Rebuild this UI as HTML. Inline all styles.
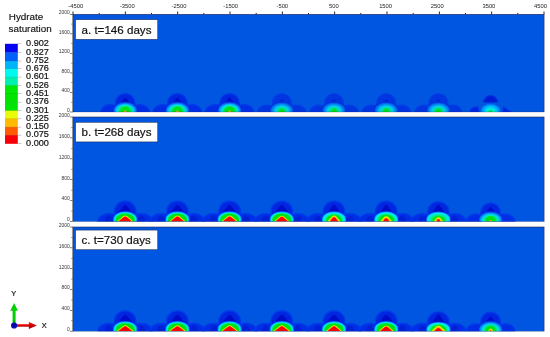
<!DOCTYPE html>
<html lang="en"><head><meta charset="utf-8"><title>Hydrate saturation</title>
<style>html,body{margin:0;padding:0;background:#fff;}body{width:550px;height:337px;overflow:hidden;}svg{display:block;font-family:"Liberation Sans",Arial,sans-serif;}</style>
</head><body>
<svg width="550" height="337" viewBox="0 0 550 337">
<defs>
<filter id="bl" x="-20%" y="-20%" width="140%" height="140%"><feGaussianBlur stdDeviation="0.55"/></filter>
<filter id="bl2" x="-20%" y="-20%" width="140%" height="140%"><feGaussianBlur stdDeviation="0.35"/></filter>
<g id="bA2" filter="url(#bl)">
<ellipse cx="0" cy="-9.00" rx="10.00" ry="9.80" fill="#003ce6"/><ellipse cx="-14.60" cy="0" rx="10.30" ry="7.50" fill="#003ce6"/><ellipse cx="14.60" cy="0" rx="10.30" ry="7.50" fill="#003ce6"/><rect x="-10" y="-9" width="20" height="9" fill="#003ce6"/><ellipse cx="0" cy="-9.00" rx="8.60" ry="8.43" fill="#0034e0"/><ellipse cx="-14.60" cy="0" rx="8.90" ry="6.10" fill="#0034e0"/><ellipse cx="14.60" cy="0" rx="8.90" ry="6.10" fill="#0034e0"/>
<ellipse cx="0" cy="-11.2" rx="1.6" ry="1.3" fill="#0024d2"/>
<path d="M-12.20,0 L-12.20,-2.00 C-12.20,-6.42 -6.74,-10.00 0,-10.00 C6.74,-10.00 12.20,-6.42 12.20,-2.00 L12.20,0 Z" fill="#002cd8"/>
<path d="M-11.60,0 L-11.60,-1.90 C-11.60,-6.10 -6.41,-9.50 0,-9.50 C6.41,-9.50 11.60,-6.10 11.60,-1.90 L11.60,0 Z" fill="#0a4ce6"/>
<path d="M-10.80,0 L-10.80,-1.78 C-10.80,-5.71 -5.96,-8.90 0,-8.90 C5.96,-8.90 10.80,-5.71 10.80,-1.78 L10.80,0 Z" fill="#006eec"/>
<path d="M-9.60,0 L-9.60,-1.60 C-9.60,-5.13 -5.30,-8.00 0,-8.00 C5.30,-8.00 9.60,-5.13 9.60,-1.60 L9.60,0 Z" fill="#0091f0"/>
<path d="M-8.20,0 L-8.20,-1.38 C-8.20,-4.43 -4.53,-6.90 0,-6.90 C4.53,-6.90 8.20,-4.43 8.20,-1.38 L8.20,0 Z" fill="#00b4f0"/>
<path d="M-6.80,0 L-6.80,-1.18 C-6.80,-3.79 -3.76,-5.90 0,-5.90 C3.76,-5.90 6.80,-3.79 6.80,-1.18 L6.80,0 Z" fill="#00d2e6"/>
<path d="M-5.40,0 L-5.40,-1.00 C-5.40,-3.21 -2.98,-5.00 0,-5.00 C2.98,-5.00 5.40,-3.21 5.40,-1.00 L5.40,0 Z" fill="#00dcbe"/>
<path d="M-4.20,0 L-4.20,-0.84 C-4.20,-2.70 -2.32,-4.20 0,-4.20 C2.32,-4.20 4.20,-2.70 4.20,-0.84 L4.20,0 Z" fill="#00e182"/>
<path d="M-3.20,0 L-3.20,-0.68 C-3.20,-2.18 -1.77,-3.40 0,-3.40 C1.77,-3.40 3.20,-2.18 3.20,-0.68 L3.20,0 Z" fill="#00e13c"/>
<path d="M-2.20,0 L-2.20,-0.50 C-2.20,-1.60 -1.22,-2.50 0,-2.50 C1.22,-2.50 2.20,-1.60 2.20,-0.50 L2.20,0 Z" fill="#00e114"/>
</g>
<g id="bA3" filter="url(#bl)">
<ellipse cx="0" cy="-9.00" rx="10.00" ry="9.80" fill="#003ce6"/><ellipse cx="-14.10" cy="0" rx="9.80" ry="7.50" fill="#003ce6"/><ellipse cx="14.10" cy="0" rx="9.80" ry="7.50" fill="#003ce6"/><rect x="-10" y="-9" width="20" height="9" fill="#003ce6"/><ellipse cx="0" cy="-9.00" rx="8.60" ry="8.43" fill="#0034e0"/><ellipse cx="-14.10" cy="0" rx="8.40" ry="6.10" fill="#0034e0"/><ellipse cx="14.10" cy="0" rx="8.40" ry="6.10" fill="#0034e0"/>
<ellipse cx="0" cy="-11.2" rx="1.6" ry="1.3" fill="#0024d2"/>
<path d="M-12.20,0 L-12.20,-2.00 C-12.20,-6.42 -6.74,-10.00 0,-10.00 C6.74,-10.00 12.20,-6.42 12.20,-2.00 L12.20,0 Z" fill="#002cd8"/>
<path d="M-11.60,0 L-11.60,-1.90 C-11.60,-6.10 -6.41,-9.50 0,-9.50 C6.41,-9.50 11.60,-6.10 11.60,-1.90 L11.60,0 Z" fill="#0a4ce6"/>
<path d="M-10.80,0 L-10.80,-1.78 C-10.80,-5.71 -5.96,-8.90 0,-8.90 C5.96,-8.90 10.80,-5.71 10.80,-1.78 L10.80,0 Z" fill="#006eec"/>
<path d="M-9.60,0 L-9.60,-1.60 C-9.60,-5.13 -5.30,-8.00 0,-8.00 C5.30,-8.00 9.60,-5.13 9.60,-1.60 L9.60,0 Z" fill="#0091f0"/>
<path d="M-8.20,0 L-8.20,-1.38 C-8.20,-4.43 -4.53,-6.90 0,-6.90 C4.53,-6.90 8.20,-4.43 8.20,-1.38 L8.20,0 Z" fill="#00b4f0"/>
<path d="M-6.80,0 L-6.80,-1.18 C-6.80,-3.79 -3.76,-5.90 0,-5.90 C3.76,-5.90 6.80,-3.79 6.80,-1.18 L6.80,0 Z" fill="#00d2e6"/>
<path d="M-5.40,0 L-5.40,-1.00 C-5.40,-3.21 -2.98,-5.00 0,-5.00 C2.98,-5.00 5.40,-3.21 5.40,-1.00 L5.40,0 Z" fill="#00dcbe"/>
<path d="M-4.20,0 L-4.20,-0.84 C-4.20,-2.70 -2.32,-4.20 0,-4.20 C2.32,-4.20 4.20,-2.70 4.20,-0.84 L4.20,0 Z" fill="#00e182"/>
<path d="M-3.20,0 L-3.20,-0.68 C-3.20,-2.18 -1.77,-3.40 0,-3.40 C1.77,-3.40 3.20,-2.18 3.20,-0.68 L3.20,0 Z" fill="#00e13c"/>
<path d="M-2.20,0 L-2.20,-0.50 C-2.20,-1.60 -1.22,-2.50 0,-2.50 C1.22,-2.50 2.20,-1.60 2.20,-0.50 L2.20,0 Z" fill="#00e114"/>
</g>
<g id="bA" filter="url(#bl)">
<ellipse cx="0" cy="-8.90" rx="10.40" ry="10.19" fill="#0038ea"/><ellipse cx="-14.60" cy="0" rx="10.30" ry="7.90" fill="#0038ea"/><ellipse cx="14.60" cy="0" rx="10.30" ry="7.90" fill="#0038ea"/><rect x="-10" y="-9" width="20" height="9" fill="#0038ea"/><ellipse cx="0" cy="-8.90" rx="9.00" ry="8.82" fill="#0026e0"/><ellipse cx="-14.60" cy="0" rx="8.90" ry="6.50" fill="#002ee6"/><ellipse cx="14.60" cy="0" rx="8.90" ry="6.50" fill="#002ee6"/>
<path d="M-4.1,-10.0 L-0.7,-14.1 Q0,-14.8 0.7,-14.1 L4.1,-10.0 Q0,-11.2 -4.1,-10.0 Z" fill="#000ec8"/>
<path d="M-12.40,0 L-12.40,-2.06 C-12.40,-6.61 -6.85,-10.30 0,-10.30 C6.85,-10.30 12.40,-6.61 12.40,-2.06 L12.40,0 Z" fill="#0026e0"/>
<path d="M-11.70,0 L-11.70,-1.94 C-11.70,-6.23 -6.46,-9.70 0,-9.70 C6.46,-9.70 11.70,-6.23 11.70,-1.94 L11.70,0 Z" fill="#0a50e6"/>
<path d="M-11.00,0 L-11.00,-1.82 C-11.00,-5.84 -6.08,-9.10 0,-9.10 C6.08,-9.10 11.00,-5.84 11.00,-1.82 L11.00,0 Z" fill="#0082f0"/>
<path d="M-10.00,0 L-10.00,-1.66 C-10.00,-5.33 -5.52,-8.30 0,-8.30 C5.52,-8.30 10.00,-5.33 10.00,-1.66 L10.00,0 Z" fill="#00aaf5"/>
<path d="M-8.90,0 L-8.90,-1.50 C-8.90,-4.81 -4.92,-7.50 0,-7.50 C4.92,-7.50 8.90,-4.81 8.90,-1.50 L8.90,0 Z" fill="#00d2f0"/>
<path d="M-7.80,0 L-7.80,-1.36 C-7.80,-4.36 -4.31,-6.80 0,-6.80 C4.31,-6.80 7.80,-4.36 7.80,-1.36 L7.80,0 Z" fill="#00e6c8"/>
<path d="M-6.70,0 L-6.70,-1.22 C-6.70,-3.92 -3.70,-6.10 0,-6.10 C3.70,-6.10 6.70,-3.92 6.70,-1.22 L6.70,0 Z" fill="#00e68c"/>
<path d="M-5.70,0 L-5.70,-1.10 C-5.70,-3.53 -3.15,-5.50 0,-5.50 C3.15,-5.50 5.70,-3.53 5.70,-1.10 L5.70,0 Z" fill="#00e646"/>
<path d="M-4.70,0 L-4.70,-0.98 C-4.70,-3.15 -2.60,-4.90 0,-4.90 C2.60,-4.90 4.70,-3.15 4.70,-0.98 L4.70,0 Z" fill="#00e114"/>
<path d="M-1.30,0 L-1.30,-0.00 C-1.30,-0.83 -0.72,-1.50 0,-1.50 C0.72,-1.50 1.30,-0.83 1.30,-0.00 L1.30,0 Z" fill="#ffaa00"/>
</g>
<g id="bD" filter="url(#bl)">
<ellipse cx="0" cy="-9.40" rx="10.40" ry="10.19" fill="#0038ea"/><ellipse cx="-14.60" cy="0" rx="10.30" ry="7.90" fill="#0038ea"/><ellipse cx="14.60" cy="0" rx="10.30" ry="7.90" fill="#0038ea"/><rect x="-10" y="-9" width="20" height="9" fill="#0038ea"/><ellipse cx="0" cy="-9.40" rx="9.00" ry="8.82" fill="#0026e0"/><ellipse cx="-14.60" cy="0" rx="8.90" ry="6.50" fill="#002ee6"/><ellipse cx="14.60" cy="0" rx="8.90" ry="6.50" fill="#002ee6"/>
<path d="M-4.1,-10.0 L-0.7,-14.1 Q0,-14.8 0.7,-14.1 L4.1,-10.0 Q0,-11.2 -4.1,-10.0 Z" fill="#000ec8"/>
<path d="M-12.40,0 L-12.40,-2.06 C-12.40,-6.61 -6.85,-10.30 0,-10.30 C6.85,-10.30 12.40,-6.61 12.40,-2.06 L12.40,0 Z" fill="#0026e0"/>
<path d="M-11.70,0 L-11.70,-1.94 C-11.70,-6.23 -6.46,-9.70 0,-9.70 C6.46,-9.70 11.70,-6.23 11.70,-1.94 L11.70,0 Z" fill="#0a50e6"/>
<path d="M-11.00,0 L-11.00,-1.82 C-11.00,-5.84 -6.08,-9.10 0,-9.10 C6.08,-9.10 11.00,-5.84 11.00,-1.82 L11.00,0 Z" fill="#0082f0"/>
<path d="M-10.00,0 L-10.00,-1.66 C-10.00,-5.33 -5.52,-8.30 0,-8.30 C5.52,-8.30 10.00,-5.33 10.00,-1.66 L10.00,0 Z" fill="#00aaf5"/>
<path d="M-8.90,0 L-8.90,-1.50 C-8.90,-4.81 -4.92,-7.50 0,-7.50 C4.92,-7.50 8.90,-4.81 8.90,-1.50 L8.90,0 Z" fill="#00d2f0"/>
<path d="M-7.80,0 L-7.80,-1.36 C-7.80,-4.36 -4.31,-6.80 0,-6.80 C4.31,-6.80 7.80,-4.36 7.80,-1.36 L7.80,0 Z" fill="#00e6c8"/>
<path d="M-6.70,0 L-6.70,-1.22 C-6.70,-3.92 -3.70,-6.10 0,-6.10 C3.70,-6.10 6.70,-3.92 6.70,-1.22 L6.70,0 Z" fill="#00e68c"/>
<path d="M-5.70,0 L-5.70,-1.10 C-5.70,-3.53 -3.15,-5.50 0,-5.50 C3.15,-5.50 5.70,-3.53 5.70,-1.10 L5.70,0 Z" fill="#00e646"/>
<path d="M-4.70,0 L-4.70,-0.98 C-4.70,-3.15 -2.60,-4.90 0,-4.90 C2.60,-4.90 4.70,-3.15 4.70,-0.98 L4.70,0 Z" fill="#00e114"/>
<path d="M-2.30,0 L-2.30,-0.00 C-2.30,-1.44 -1.27,-2.60 0,-2.60 C1.27,-2.60 2.30,-1.44 2.30,-0.00 L2.30,0 Z" fill="#b4f000"/>
<path d="M-1.70,0 L-1.70,-0.00 C-1.70,-1.10 -0.94,-2.00 0,-2.00 C0.94,-2.00 1.70,-1.10 1.70,-0.00 L1.70,0 Z" fill="#ffd200"/>
<path d="M-1.3,0 L0,-1.6 L1.3,0 Z" fill="#ff5000"/>
</g>
<g id="bB" filter="url(#bl)">
<ellipse cx="0" cy="-9.80" rx="11.40" ry="11.17" fill="#0038ea"/><ellipse cx="-16.05" cy="0" rx="11.75" ry="8.50" fill="#0038ea"/><ellipse cx="16.05" cy="0" rx="11.75" ry="8.50" fill="#0038ea"/><rect x="-10" y="-9" width="20" height="9" fill="#0038ea"/><ellipse cx="0" cy="-9.80" rx="10.00" ry="9.80" fill="#0026e0"/><ellipse cx="-16.05" cy="0" rx="10.35" ry="7.10" fill="#002ee6"/><ellipse cx="16.05" cy="0" rx="10.35" ry="7.10" fill="#002ee6"/>
<path d="M-7.40,-8.50 Q-4.07,-13.07 -1.20,-16.00 Q0,-17.10 1.2,-16.00 Q4.07,-13.07 7.40,-8.50 Z" fill="#000ec8"/><ellipse cx="-16.00" cy="0" rx="4.00" ry="6.00" fill="#0020d6"/><ellipse cx="16.00" cy="0" rx="4.00" ry="6.00" fill="#0020d6"/>
<path d="M-12.50,0 L-12.50,-2.60 C-12.50,-6.91 -6.90,-10.40 0,-10.40 C6.90,-10.40 12.50,-6.91 12.50,-2.60 L12.50,0 Z" fill="#0026e0"/>
<path d="M-12.00,0 L-12.00,-2.50 C-12.00,-6.64 -6.63,-10.00 0,-10.00 C6.63,-10.00 12.00,-6.64 12.00,-2.50 L12.00,0 Z" fill="#0a78f5"/>
<path d="M-11.50,0 L-11.50,-2.38 C-11.50,-6.31 -6.35,-9.50 0,-9.50 C6.35,-9.50 11.50,-6.31 11.50,-2.38 L11.50,0 Z" fill="#00beff"/>
<path d="M-10.80,0 L-10.80,-2.25 C-10.80,-5.98 -5.96,-9.00 0,-9.00 C5.96,-9.00 10.80,-5.98 10.80,-2.25 L10.80,0 Z" fill="#00ebf0"/>
<path d="M-10.00,0 L-10.00,-2.10 C-10.00,-5.58 -5.52,-8.40 0,-8.40 C5.52,-8.40 10.00,-5.58 10.00,-2.10 L10.00,0 Z" fill="#00f0a0"/>
<path d="M-9.40,0 L-9.40,-1.58 C-9.40,-5.07 -5.19,-7.90 0,-7.90 C5.19,-7.90 9.40,-5.07 9.40,-1.58 L9.40,0 Z" fill="#00e114"/>
<path d="M-7.69,0 L-7.39,-0.8 L-2.00,-5.16 Q0,-6.76 2.00,-5.16 L7.39,-0.8 L7.69,0 Z" fill="#a0f000"/>
<path d="M-7.19,0 L-6.89,-0.8 L-1.80,-4.91 Q0,-6.36 1.80,-4.91 L6.89,-0.8 L7.19,0 Z" fill="#fff000"/>
<path d="M-6.70,0 L-6.40,-0.8 L-1.50,-4.73 Q0,-5.95 1.50,-4.73 L6.40,-0.8 L6.70,0 Z" fill="#ff9600"/>
<path d="M-6.20,0 L-5.90,-0.8 L-1.20,-4.50 Q0,-5.50 1.20,-4.50 L5.90,-0.8 L6.20,0 Z" fill="#ff0000"/>
</g>
<g id="bB66" filter="url(#bl)">
<ellipse cx="0" cy="-9.80" rx="11.40" ry="11.17" fill="#0038ea"/><ellipse cx="-16.05" cy="0" rx="11.75" ry="8.50" fill="#0038ea"/><ellipse cx="16.05" cy="0" rx="11.75" ry="8.50" fill="#0038ea"/><rect x="-10" y="-9" width="20" height="9" fill="#0038ea"/><ellipse cx="0" cy="-9.80" rx="10.00" ry="9.80" fill="#0026e0"/><ellipse cx="-16.05" cy="0" rx="10.35" ry="7.10" fill="#002ee6"/><ellipse cx="16.05" cy="0" rx="10.35" ry="7.10" fill="#002ee6"/>
<path d="M-7.40,-8.50 Q-4.07,-13.07 -1.20,-16.00 Q0,-17.10 1.2,-16.00 Q4.07,-13.07 7.40,-8.50 Z" fill="#000ec8"/><ellipse cx="-16.00" cy="0" rx="4.00" ry="6.00" fill="#0020d6"/><ellipse cx="16.00" cy="0" rx="4.00" ry="6.00" fill="#0020d6"/>
<path d="M-12.50,0 L-12.50,-2.60 C-12.50,-6.91 -6.90,-10.40 0,-10.40 C6.90,-10.40 12.50,-6.91 12.50,-2.60 L12.50,0 Z" fill="#0026e0"/>
<path d="M-12.00,0 L-12.00,-2.50 C-12.00,-6.64 -6.63,-10.00 0,-10.00 C6.63,-10.00 12.00,-6.64 12.00,-2.50 L12.00,0 Z" fill="#0a78f5"/>
<path d="M-11.50,0 L-11.50,-2.38 C-11.50,-6.31 -6.35,-9.50 0,-9.50 C6.35,-9.50 11.50,-6.31 11.50,-2.38 L11.50,0 Z" fill="#00beff"/>
<path d="M-10.80,0 L-10.80,-2.25 C-10.80,-5.98 -5.96,-9.00 0,-9.00 C5.96,-9.00 10.80,-5.98 10.80,-2.25 L10.80,0 Z" fill="#00ebf0"/>
<path d="M-10.00,0 L-10.00,-2.10 C-10.00,-5.58 -5.52,-8.40 0,-8.40 C5.52,-8.40 10.00,-5.58 10.00,-2.10 L10.00,0 Z" fill="#00f0a0"/>
<path d="M-9.40,0 L-9.40,-1.58 C-9.40,-5.07 -5.19,-7.90 0,-7.90 C5.19,-7.90 9.40,-5.07 9.40,-1.58 L9.40,0 Z" fill="#00e114"/>
<path d="M-8.08,0 L-7.78,-0.8 L-2.00,-5.16 Q0,-6.76 2.00,-5.16 L7.78,-0.8 L8.08,0 Z" fill="#a0f000"/>
<path d="M-7.59,0 L-7.29,-0.8 L-1.80,-4.91 Q0,-6.36 1.80,-4.91 L7.29,-0.8 L7.59,0 Z" fill="#fff000"/>
<path d="M-7.09,0 L-6.79,-0.8 L-1.50,-4.73 Q0,-5.95 1.50,-4.73 L6.79,-0.8 L7.09,0 Z" fill="#ff9600"/>
<path d="M-6.60,0 L-6.30,-0.8 L-1.20,-4.50 Q0,-5.50 1.20,-4.50 L6.30,-0.8 L6.60,0 Z" fill="#ff0000"/>
</g>
<g id="bB58" filter="url(#bl)">
<ellipse cx="0" cy="-9.80" rx="11.40" ry="11.17" fill="#0038ea"/><ellipse cx="-16.05" cy="0" rx="11.75" ry="8.50" fill="#0038ea"/><ellipse cx="16.05" cy="0" rx="11.75" ry="8.50" fill="#0038ea"/><rect x="-10" y="-9" width="20" height="9" fill="#0038ea"/><ellipse cx="0" cy="-9.80" rx="10.00" ry="9.80" fill="#0026e0"/><ellipse cx="-16.05" cy="0" rx="10.35" ry="7.10" fill="#002ee6"/><ellipse cx="16.05" cy="0" rx="10.35" ry="7.10" fill="#002ee6"/>
<path d="M-7.40,-8.50 Q-4.07,-13.07 -1.20,-16.00 Q0,-17.10 1.2,-16.00 Q4.07,-13.07 7.40,-8.50 Z" fill="#000ec8"/><ellipse cx="-16.00" cy="0" rx="4.00" ry="6.00" fill="#0020d6"/><ellipse cx="16.00" cy="0" rx="4.00" ry="6.00" fill="#0020d6"/>
<path d="M-12.50,0 L-12.50,-2.60 C-12.50,-6.91 -6.90,-10.40 0,-10.40 C6.90,-10.40 12.50,-6.91 12.50,-2.60 L12.50,0 Z" fill="#0026e0"/>
<path d="M-12.00,0 L-12.00,-2.50 C-12.00,-6.64 -6.63,-10.00 0,-10.00 C6.63,-10.00 12.00,-6.64 12.00,-2.50 L12.00,0 Z" fill="#0a78f5"/>
<path d="M-11.50,0 L-11.50,-2.38 C-11.50,-6.31 -6.35,-9.50 0,-9.50 C6.35,-9.50 11.50,-6.31 11.50,-2.38 L11.50,0 Z" fill="#00beff"/>
<path d="M-10.80,0 L-10.80,-2.25 C-10.80,-5.98 -5.96,-9.00 0,-9.00 C5.96,-9.00 10.80,-5.98 10.80,-2.25 L10.80,0 Z" fill="#00ebf0"/>
<path d="M-10.00,0 L-10.00,-2.10 C-10.00,-5.58 -5.52,-8.40 0,-8.40 C5.52,-8.40 10.00,-5.58 10.00,-2.10 L10.00,0 Z" fill="#00f0a0"/>
<path d="M-9.40,0 L-9.40,-1.58 C-9.40,-5.07 -5.19,-7.90 0,-7.90 C5.19,-7.90 9.40,-5.07 9.40,-1.58 L9.40,0 Z" fill="#00e114"/>
<path d="M-7.29,0 L-6.99,-0.8 L-2.00,-4.96 Q0,-6.56 2.00,-4.96 L6.99,-0.8 L7.29,0 Z" fill="#a0f000"/>
<path d="M-6.79,0 L-6.49,-0.8 L-1.80,-4.71 Q0,-6.15 1.80,-4.71 L6.49,-0.8 L6.79,0 Z" fill="#fff000"/>
<path d="M-6.29,0 L-6.00,-0.8 L-1.50,-4.53 Q0,-5.75 1.50,-4.53 L6.00,-0.8 L6.29,0 Z" fill="#ff9600"/>
<path d="M-5.80,0 L-5.50,-0.8 L-1.20,-4.30 Q0,-5.30 1.20,-4.30 L5.50,-0.8 L5.80,0 Z" fill="#ff0000"/>
</g>
<g id="bB57" filter="url(#bl)">
<ellipse cx="0" cy="-9.80" rx="11.40" ry="11.17" fill="#0038ea"/><ellipse cx="-16.05" cy="0" rx="11.75" ry="8.50" fill="#0038ea"/><ellipse cx="16.05" cy="0" rx="11.75" ry="8.50" fill="#0038ea"/><rect x="-10" y="-9" width="20" height="9" fill="#0038ea"/><ellipse cx="0" cy="-9.80" rx="10.00" ry="9.80" fill="#0026e0"/><ellipse cx="-16.05" cy="0" rx="10.35" ry="7.10" fill="#002ee6"/><ellipse cx="16.05" cy="0" rx="10.35" ry="7.10" fill="#002ee6"/>
<path d="M-7.40,-8.50 Q-4.07,-13.07 -1.20,-16.00 Q0,-17.10 1.2,-16.00 Q4.07,-13.07 7.40,-8.50 Z" fill="#000ec8"/><ellipse cx="-16.00" cy="0" rx="4.00" ry="6.00" fill="#0020d6"/><ellipse cx="16.00" cy="0" rx="4.00" ry="6.00" fill="#0020d6"/>
<path d="M-12.50,0 L-12.50,-2.60 C-12.50,-6.91 -6.90,-10.40 0,-10.40 C6.90,-10.40 12.50,-6.91 12.50,-2.60 L12.50,0 Z" fill="#0026e0"/>
<path d="M-12.00,0 L-12.00,-2.50 C-12.00,-6.64 -6.63,-10.00 0,-10.00 C6.63,-10.00 12.00,-6.64 12.00,-2.50 L12.00,0 Z" fill="#0a78f5"/>
<path d="M-11.50,0 L-11.50,-2.38 C-11.50,-6.31 -6.35,-9.50 0,-9.50 C6.35,-9.50 11.50,-6.31 11.50,-2.38 L11.50,0 Z" fill="#00beff"/>
<path d="M-10.80,0 L-10.80,-2.25 C-10.80,-5.98 -5.96,-9.00 0,-9.00 C5.96,-9.00 10.80,-5.98 10.80,-2.25 L10.80,0 Z" fill="#00ebf0"/>
<path d="M-10.00,0 L-10.00,-2.10 C-10.00,-5.58 -5.52,-8.40 0,-8.40 C5.52,-8.40 10.00,-5.58 10.00,-2.10 L10.00,0 Z" fill="#00f0a0"/>
<path d="M-9.40,0 L-9.40,-1.58 C-9.40,-5.07 -5.19,-7.90 0,-7.90 C5.19,-7.90 9.40,-5.07 9.40,-1.58 L9.40,0 Z" fill="#00e114"/>
<path d="M-7.35,0 L-7.05,-0.8 L-2.00,-4.90 Q0,-6.50 2.00,-4.90 L7.05,-0.8 L7.35,0 Z" fill="#a0f000"/>
<path d="M-6.80,0 L-6.50,-0.8 L-1.80,-4.60 Q0,-6.05 1.80,-4.60 L6.50,-0.8 L6.80,0 Z" fill="#fff000"/>
<path d="M-6.25,0 L-5.95,-0.8 L-1.50,-4.38 Q0,-5.60 1.50,-4.38 L5.95,-0.8 L6.25,0 Z" fill="#ff9600"/>
<path d="M-5.70,0 L-5.40,-0.8 L-1.20,-4.10 Q0,-5.10 1.20,-4.10 L5.40,-0.8 L5.70,0 Z" fill="#ff0000"/>
</g>
<g id="bB45" filter="url(#bl)">
<ellipse cx="0" cy="-8.80" rx="11.40" ry="11.17" fill="#0038ea"/><ellipse cx="-16.05" cy="0" rx="11.75" ry="8.50" fill="#0038ea"/><ellipse cx="16.05" cy="0" rx="11.75" ry="8.50" fill="#0038ea"/><rect x="-10" y="-9" width="20" height="9" fill="#0038ea"/><ellipse cx="0" cy="-8.80" rx="10.00" ry="9.80" fill="#0026e0"/><ellipse cx="-16.05" cy="0" rx="10.35" ry="7.10" fill="#002ee6"/><ellipse cx="16.05" cy="0" rx="10.35" ry="7.10" fill="#002ee6"/>
<path d="M-6.40,-8.50 Q-3.52,-13.18 -1.20,-16.20 Q0,-17.30 1.2,-16.20 Q3.52,-13.18 6.40,-8.50 Z" fill="#000ec8"/><ellipse cx="-15.80" cy="0" rx="3.80" ry="5.80" fill="#0020d6"/><ellipse cx="15.80" cy="0" rx="3.80" ry="5.80" fill="#0020d6"/>
<path d="M-12.50,0 L-12.50,-2.39 C-12.50,-6.36 -6.90,-9.57 0,-9.57 C6.90,-9.57 12.50,-6.36 12.50,-2.39 L12.50,0 Z" fill="#0026e0"/>
<path d="M-12.00,0 L-12.00,-2.30 C-12.00,-6.11 -6.63,-9.20 0,-9.20 C6.63,-9.20 12.00,-6.11 12.00,-2.30 L12.00,0 Z" fill="#0a78f5"/>
<path d="M-11.50,0 L-11.50,-2.19 C-11.50,-5.81 -6.35,-8.74 0,-8.74 C6.35,-8.74 11.50,-5.81 11.50,-2.19 L11.50,0 Z" fill="#00beff"/>
<path d="M-10.80,0 L-10.80,-2.07 C-10.80,-5.50 -5.96,-8.28 0,-8.28 C5.96,-8.28 10.80,-5.50 10.80,-2.07 L10.80,0 Z" fill="#00ebf0"/>
<path d="M-9.90,0 L-9.90,-1.53 C-9.90,-4.90 -5.47,-7.64 0,-7.64 C5.47,-7.64 9.90,-4.90 9.90,-1.53 L9.90,0 Z" fill="#00f0d2"/>
<path d="M-9.20,0 L-9.20,-1.44 C-9.20,-4.61 -5.08,-7.18 0,-7.18 C5.08,-7.18 9.20,-4.61 9.20,-1.44 L9.20,0 Z" fill="#00f0aa"/>
<path d="M-8.50,0 L-8.50,-1.01 C-8.50,-4.16 -4.69,-6.72 0,-6.72 C4.69,-6.72 8.50,-4.16 8.50,-1.01 L8.50,0 Z" fill="#00eb6e"/>
<path d="M-7.80,0 L-7.80,-0.63 C-7.80,-3.74 -4.31,-6.26 0,-6.26 C4.31,-6.26 7.80,-3.74 7.80,-0.63 L7.80,0 Z" fill="#00e114"/>
<path d="M-7.20,0 L-6.90,-0.8 L-2.00,-5.00 Q0,-6.60 2.00,-5.00 L6.90,-0.8 L7.20,0 Z" fill="#a0f000"/>
<path d="M-6.10,0 L-5.80,-0.8 L-1.80,-4.25 Q0,-5.70 1.80,-4.25 L5.80,-0.8 L6.10,0 Z" fill="#fff000"/>
<path d="M-5.00,0 L-4.70,-0.8 L-1.50,-3.58 Q0,-4.80 1.50,-3.58 L4.70,-0.8 L5.00,0 Z" fill="#ff9600"/>
<path d="M-3.90,0 L-3.60,-0.8 L-1.20,-2.80 Q0,-3.80 1.20,-2.80 L3.60,-0.8 L3.90,0 Z" fill="#ff0000"/>
</g>
<g id="bB39" filter="url(#bl)">
<ellipse cx="0" cy="-9.80" rx="11.40" ry="11.17" fill="#0038ea"/><ellipse cx="-16.05" cy="0" rx="11.75" ry="8.50" fill="#0038ea"/><ellipse cx="16.05" cy="0" rx="11.75" ry="8.50" fill="#0038ea"/><rect x="-10" y="-9" width="20" height="9" fill="#0038ea"/><ellipse cx="0" cy="-9.80" rx="10.00" ry="9.80" fill="#0026e0"/><ellipse cx="-16.05" cy="0" rx="10.35" ry="7.10" fill="#002ee6"/><ellipse cx="16.05" cy="0" rx="10.35" ry="7.10" fill="#002ee6"/>
<path d="M-6.40,-8.50 Q-3.52,-13.18 -1.20,-16.20 Q0,-17.30 1.2,-16.20 Q3.52,-13.18 6.40,-8.50 Z" fill="#000ec8"/><ellipse cx="-15.80" cy="0" rx="3.80" ry="5.80" fill="#0020d6"/><ellipse cx="15.80" cy="0" rx="3.80" ry="5.80" fill="#0020d6"/>
<path d="M-12.50,0 L-12.50,-2.60 C-12.50,-6.91 -6.90,-10.40 0,-10.40 C6.90,-10.40 12.50,-6.91 12.50,-2.60 L12.50,0 Z" fill="#0026e0"/>
<path d="M-12.00,0 L-12.00,-2.50 C-12.00,-6.64 -6.63,-10.00 0,-10.00 C6.63,-10.00 12.00,-6.64 12.00,-2.50 L12.00,0 Z" fill="#0a78f5"/>
<path d="M-11.50,0 L-11.50,-2.38 C-11.50,-6.31 -6.35,-9.50 0,-9.50 C6.35,-9.50 11.50,-6.31 11.50,-2.38 L11.50,0 Z" fill="#00beff"/>
<path d="M-10.80,0 L-10.80,-2.25 C-10.80,-5.98 -5.96,-9.00 0,-9.00 C5.96,-9.00 10.80,-5.98 10.80,-2.25 L10.80,0 Z" fill="#00ebf0"/>
<path d="M-9.90,0 L-9.90,-1.66 C-9.90,-5.33 -5.47,-8.30 0,-8.30 C5.47,-8.30 9.90,-5.33 9.90,-1.66 L9.90,0 Z" fill="#00f0d2"/>
<path d="M-9.20,0 L-9.20,-1.56 C-9.20,-5.01 -5.08,-7.80 0,-7.80 C5.08,-7.80 9.20,-5.01 9.20,-1.56 L9.20,0 Z" fill="#00f0aa"/>
<path d="M-8.50,0 L-8.50,-1.09 C-8.50,-4.52 -4.69,-7.30 0,-7.30 C4.69,-7.30 8.50,-4.52 8.50,-1.09 L8.50,0 Z" fill="#00eb6e"/>
<path d="M-7.80,0 L-7.80,-0.68 C-7.80,-4.06 -4.31,-6.80 0,-6.80 C4.31,-6.80 7.80,-4.06 7.80,-0.68 L7.80,0 Z" fill="#00e114"/>
<path d="M-6.54,0 L-6.24,-0.8 L-2.00,-5.34 Q0,-6.94 2.00,-5.34 L6.24,-0.8 L6.54,0 Z" fill="#a0f000"/>
<path d="M-5.66,0 L-5.36,-0.8 L-1.80,-4.77 Q0,-6.22 1.80,-4.77 L5.36,-0.8 L5.66,0 Z" fill="#fff000"/>
<path d="M-4.78,0 L-4.48,-0.8 L-1.50,-4.27 Q0,-5.50 1.50,-4.27 L4.48,-0.8 L4.78,0 Z" fill="#ff9600"/>
<path d="M-3.90,0 L-3.60,-0.8 L-1.20,-3.70 Q0,-4.70 1.20,-3.70 L3.60,-0.8 L3.90,0 Z" fill="#ff0000"/>
</g>
<g id="bB30" filter="url(#bl)">
<ellipse cx="0" cy="-9.80" rx="11.40" ry="11.17" fill="#0038ea"/><ellipse cx="-16.05" cy="0" rx="11.75" ry="8.50" fill="#0038ea"/><ellipse cx="16.05" cy="0" rx="11.75" ry="8.50" fill="#0038ea"/><rect x="-10" y="-9" width="20" height="9" fill="#0038ea"/><ellipse cx="0" cy="-9.80" rx="10.00" ry="9.80" fill="#0026e0"/><ellipse cx="-16.05" cy="0" rx="10.35" ry="7.10" fill="#002ee6"/><ellipse cx="16.05" cy="0" rx="10.35" ry="7.10" fill="#002ee6"/>
<path d="M-6.40,-8.50 Q-3.52,-13.18 -1.20,-16.20 Q0,-17.30 1.2,-16.20 Q3.52,-13.18 6.40,-8.50 Z" fill="#000ec8"/><ellipse cx="-15.80" cy="0" rx="3.80" ry="5.80" fill="#0020d6"/><ellipse cx="15.80" cy="0" rx="3.80" ry="5.80" fill="#0020d6"/>
<path d="M-12.50,0 L-12.50,-2.60 C-12.50,-6.91 -6.90,-10.40 0,-10.40 C6.90,-10.40 12.50,-6.91 12.50,-2.60 L12.50,0 Z" fill="#0026e0"/>
<path d="M-12.00,0 L-12.00,-2.50 C-12.00,-6.64 -6.63,-10.00 0,-10.00 C6.63,-10.00 12.00,-6.64 12.00,-2.50 L12.00,0 Z" fill="#0a78f5"/>
<path d="M-11.50,0 L-11.50,-2.38 C-11.50,-6.31 -6.35,-9.50 0,-9.50 C6.35,-9.50 11.50,-6.31 11.50,-2.38 L11.50,0 Z" fill="#00beff"/>
<path d="M-10.80,0 L-10.80,-2.25 C-10.80,-5.98 -5.96,-9.00 0,-9.00 C5.96,-9.00 10.80,-5.98 10.80,-2.25 L10.80,0 Z" fill="#00ebf0"/>
<path d="M-9.90,0 L-9.90,-1.66 C-9.90,-5.33 -5.47,-8.30 0,-8.30 C5.47,-8.30 9.90,-5.33 9.90,-1.66 L9.90,0 Z" fill="#00f0d2"/>
<path d="M-9.20,0 L-9.20,-1.56 C-9.20,-5.01 -5.08,-7.80 0,-7.80 C5.08,-7.80 9.20,-5.01 9.20,-1.56 L9.20,0 Z" fill="#00f0aa"/>
<path d="M-8.50,0 L-8.50,-1.09 C-8.50,-4.52 -4.69,-7.30 0,-7.30 C4.69,-7.30 8.50,-4.52 8.50,-1.09 L8.50,0 Z" fill="#00eb6e"/>
<path d="M-7.80,0 L-7.80,-0.68 C-7.80,-4.06 -4.31,-6.80 0,-6.80 C4.31,-6.80 7.80,-4.06 7.80,-0.68 L7.80,0 Z" fill="#00e114"/>
<path d="M-5.97,0 L-5.67,-0.8 L-2.00,-4.72 Q0,-6.32 2.00,-4.72 L5.67,-0.8 L5.97,0 Z" fill="#a0f000"/>
<path d="M-4.98,0 L-4.68,-0.8 L-1.80,-4.06 Q0,-5.51 1.80,-4.06 L4.68,-0.8 L4.98,0 Z" fill="#fff000"/>
<path d="M-3.99,0 L-3.69,-0.8 L-1.50,-3.48 Q0,-4.70 1.50,-3.48 L3.69,-0.8 L3.99,0 Z" fill="#ff9600"/>
<path d="M-3.00,0 L-2.70,-0.8 L-1.20,-2.80 Q0,-3.80 1.20,-2.80 L2.70,-0.8 L3.00,0 Z" fill="#ff0000"/>
</g>
<g id="bE" filter="url(#bl)">
<ellipse cx="0" cy="-9.20" rx="11.40" ry="11.17" fill="#0038ea"/><ellipse cx="-16.05" cy="0" rx="11.75" ry="8.50" fill="#0038ea"/><ellipse cx="16.05" cy="0" rx="11.75" ry="8.50" fill="#0038ea"/><rect x="-10" y="-9" width="20" height="9" fill="#0038ea"/><ellipse cx="0" cy="-9.20" rx="10.00" ry="9.80" fill="#0026e0"/><ellipse cx="-16.05" cy="0" rx="10.35" ry="7.10" fill="#002ee6"/><ellipse cx="16.05" cy="0" rx="10.35" ry="7.10" fill="#002ee6"/>
<path d="M-6.40,-8.50 Q-3.52,-13.18 -1.20,-16.20 Q0,-17.30 1.2,-16.20 Q3.52,-13.18 6.40,-8.50 Z" fill="#000ec8"/><ellipse cx="-15.80" cy="0" rx="3.80" ry="5.80" fill="#0020d6"/><ellipse cx="15.80" cy="0" rx="3.80" ry="5.80" fill="#0020d6"/>
<path d="M-12.50,0 L-12.50,-2.52 C-12.50,-6.70 -6.90,-10.09 0,-10.09 C6.90,-10.09 12.50,-6.70 12.50,-2.52 L12.50,0 Z" fill="#0026e0"/>
<path d="M-12.00,0 L-12.00,-2.42 C-12.00,-6.44 -6.63,-9.70 0,-9.70 C6.63,-9.70 12.00,-6.44 12.00,-2.42 L12.00,0 Z" fill="#0a78f5"/>
<path d="M-11.50,0 L-11.50,-2.30 C-11.50,-6.12 -6.35,-9.21 0,-9.21 C6.35,-9.21 11.50,-6.12 11.50,-2.30 L11.50,0 Z" fill="#00beff"/>
<path d="M-10.80,0 L-10.80,-2.18 C-10.80,-5.80 -5.96,-8.73 0,-8.73 C5.96,-8.73 10.80,-5.80 10.80,-2.18 L10.80,0 Z" fill="#00ebf0"/>
<path d="M-10.00,0 L-10.00,-1.63 C-10.00,-5.23 -5.52,-8.15 0,-8.15 C5.52,-8.15 10.00,-5.23 10.00,-1.63 L10.00,0 Z" fill="#00e6dc"/>
<path d="M-9.00,0 L-9.00,-1.49 C-9.00,-4.79 -4.97,-7.47 0,-7.47 C4.97,-7.47 9.00,-4.79 9.00,-1.49 L9.00,0 Z" fill="#00ebbe"/>
<path d="M-8.00,0 L-8.00,-1.36 C-8.00,-4.36 -4.42,-6.79 0,-6.79 C4.42,-6.79 8.00,-4.36 8.00,-1.36 L8.00,0 Z" fill="#00eb8c"/>
<path d="M-7.00,0 L-7.00,-0.90 C-7.00,-3.73 -3.87,-6.01 0,-6.01 C3.87,-6.01 7.00,-3.73 7.00,-0.90 L7.00,0 Z" fill="#00e650"/>
<path d="M-6.00,0 L-6.00,-0.53 C-6.00,-3.19 -3.31,-5.33 0,-5.33 C3.31,-5.33 6.00,-3.19 6.00,-0.53 L6.00,0 Z" fill="#00e114"/>
<path d="M-4.77,0 L-4.47,-0.8 L-2.00,-3.62 Q0,-5.22 2.00,-3.62 L4.47,-0.8 L4.77,0 Z" fill="#a0f000"/>
<path d="M-3.78,0 L-3.48,-0.8 L-1.80,-2.96 Q0,-4.41 1.80,-2.96 L3.48,-0.8 L3.78,0 Z" fill="#fff000"/>
<path d="M-2.79,0 L-2.49,-0.8 L-1.50,-2.38 Q0,-3.60 1.50,-2.38 L2.49,-0.8 L2.79,0 Z" fill="#ff9600"/>
<path d="M-1.80,0 L-1.50,-0.8 L-0.72,-2.06 Q0,-2.70 0.72,-2.06 L1.50,-0.8 L1.80,0 Z" fill="#ff0000"/>
</g>
<g id="bC" filter="url(#bl)">
<path d="M-7.6,-9.6 Q-7.0,-14.0 -2.5,-16.4 Q0,-17.2 2.5,-16.4 Q7.0,-14.0 7.6,-9.6 Z" fill="#0026e0"/>
<path d="M-5.8,-10.2 Q-5.0,-13.6 0,-15.6 Q5.0,-13.6 5.8,-10.2 Z" fill="#001cd0"/>
<path d="M-21.5,0 L-20.5,-3.2 Q-16.5,-6.6 -12,-5.4 L-11,0 Z" fill="#0038ea"/>
<path d="M-20,0 L-19,-2.8 Q-16,-5.4 -13,-4.4 L-12.4,0 Z" fill="#0026e0"/>
<path d="M11.6,0 L12.4,-5.8 L21.5,0 Z" fill="#0038ea"/>
<path d="M12.6,0 L13.2,-4.4 L19.5,0 Z" fill="#0026e0"/>
<path d="M-9.90,0 L-9.90,-1.25 C-9.90,-5.14 -5.47,-8.30 0,-8.30 C5.47,-8.30 9.90,-5.14 9.90,-1.25 L9.90,0 Z" fill="#0a6eeb"/>
<path d="M-8.80,0 L-8.80,-1.11 C-8.80,-4.58 -4.86,-7.40 0,-7.40 C4.86,-7.40 8.80,-4.58 8.80,-1.11 L8.80,0 Z" fill="#009bff"/>
<path d="M-6.80,0 L-6.80,-0.89 C-6.80,-3.65 -3.76,-5.90 0,-5.90 C3.76,-5.90 6.80,-3.65 6.80,-0.89 L6.80,0 Z" fill="#00c8fa"/>
<path d="M-4.80,0 L-4.80,-0.42 C-4.80,-2.51 -2.65,-4.20 0,-4.20 C2.65,-4.20 4.80,-2.51 4.80,-0.42 L4.80,0 Z" fill="#00ebdc"/>
<path d="M-2.60,0 L-2.60,-0.00 C-2.60,-1.44 -1.44,-2.60 0,-2.60 C1.44,-2.60 2.60,-1.44 2.60,-0.00 L2.60,0 Z" fill="#00eb8c"/>
<path d="M-1.40,0 L-1.40,-0.00 C-1.40,-0.83 -0.77,-1.50 0,-1.50 C0.77,-1.50 1.40,-0.83 1.40,-0.00 L1.40,0 Z" fill="#00dc3c"/>
</g>
<linearGradient id="gg" x1="0" y1="0" x2="0" y2="1"><stop offset="0" stop-color="#00d200"/><stop offset="0.7" stop-color="#00cc00"/><stop offset="1" stop-color="#009600"/></linearGradient>
<linearGradient id="rg" x1="0" y1="0" x2="0" y2="1"><stop offset="0" stop-color="#ff3c3c"/><stop offset="0.5" stop-color="#e60000"/><stop offset="1" stop-color="#aa0000"/></linearGradient>
<linearGradient id="rg2" x1="0" y1="0" x2="0" y2="1"><stop offset="0" stop-color="#f01414"/><stop offset="0.5" stop-color="#d20000"/><stop offset="1" stop-color="#a00000"/></linearGradient>
</defs>
<rect x="0" y="0" width="550" height="337" fill="#ffffff"/>
<text x="8.8" y="20.4" font-size="9.85" fill="#111" stroke="#111" stroke-width="0.15">Hydrate</text>
<text x="8.5" y="31.9" font-size="9.85" fill="#111" stroke="#111" stroke-width="0.15">saturation</text>
<rect x="5" y="43.80" width="12.8" height="8.90" fill="#0404f0"/>
<rect x="5" y="52.40" width="12.8" height="8.90" fill="#0060fa"/>
<rect x="5" y="61.00" width="12.8" height="8.00" fill="#00b4fa"/>
<rect x="5" y="68.70" width="12.8" height="8.70" fill="#00f8ee"/>
<rect x="5" y="77.10" width="12.8" height="8.60" fill="#00f0b0"/>
<rect x="5" y="85.40" width="12.8" height="8.60" fill="#00e808"/>
<rect x="5" y="93.70" width="12.8" height="8.80" fill="#00e400"/>
<rect x="5" y="102.20" width="12.8" height="8.70" fill="#00e604"/>
<rect x="5" y="110.60" width="12.8" height="8.50" fill="#e8fc0a"/>
<rect x="5" y="118.80" width="12.8" height="8.60" fill="#ffba00"/>
<rect x="5" y="127.10" width="12.8" height="8.40" fill="#ff5c00"/>
<rect x="5" y="135.20" width="12.8" height="8.60" fill="#f8000a"/>
<rect x="5" y="52.15" width="12.8" height="0.5" fill="#000" fill-opacity="0.18"/>
<rect x="5" y="60.75" width="12.8" height="0.5" fill="#000" fill-opacity="0.18"/>
<rect x="5" y="68.45" width="12.8" height="0.5" fill="#000" fill-opacity="0.18"/>
<rect x="5" y="76.85" width="12.8" height="0.5" fill="#000" fill-opacity="0.18"/>
<rect x="5" y="85.15" width="12.8" height="0.5" fill="#000" fill-opacity="0.18"/>
<rect x="5" y="93.45" width="12.8" height="0.5" fill="#000" fill-opacity="0.18"/>
<rect x="5" y="101.95" width="12.8" height="0.5" fill="#000" fill-opacity="0.18"/>
<rect x="5" y="110.35" width="12.8" height="0.5" fill="#000" fill-opacity="0.18"/>
<rect x="5" y="118.55" width="12.8" height="0.5" fill="#000" fill-opacity="0.18"/>
<rect x="5" y="126.85" width="12.8" height="0.5" fill="#000" fill-opacity="0.18"/>
<rect x="5" y="134.95" width="12.8" height="0.5" fill="#000" fill-opacity="0.18"/>
<rect x="17.8" y="43.50" width="3.6" height="0.6" fill="#a8a8a8"/>
<text x="26.1" y="45.90" font-size="9.8" textLength="22.8" lengthAdjust="spacingAndGlyphs" fill="#111" stroke="#111" stroke-width="0.22">0.902</text>
<rect x="17.8" y="52.10" width="3.6" height="0.6" fill="#a8a8a8"/>
<text x="26.1" y="54.50" font-size="9.8" textLength="22.8" lengthAdjust="spacingAndGlyphs" fill="#111" stroke="#111" stroke-width="0.22">0.827</text>
<rect x="17.8" y="60.70" width="3.6" height="0.6" fill="#a8a8a8"/>
<text x="26.1" y="63.10" font-size="9.8" textLength="22.8" lengthAdjust="spacingAndGlyphs" fill="#111" stroke="#111" stroke-width="0.22">0.752</text>
<rect x="17.8" y="68.40" width="3.6" height="0.6" fill="#a8a8a8"/>
<text x="26.1" y="70.80" font-size="9.8" textLength="22.8" lengthAdjust="spacingAndGlyphs" fill="#111" stroke="#111" stroke-width="0.22">0.676</text>
<rect x="17.8" y="76.80" width="3.6" height="0.6" fill="#a8a8a8"/>
<text x="26.1" y="79.20" font-size="9.8" textLength="22.8" lengthAdjust="spacingAndGlyphs" fill="#111" stroke="#111" stroke-width="0.22">0.601</text>
<rect x="17.8" y="85.10" width="3.6" height="0.6" fill="#a8a8a8"/>
<text x="26.1" y="87.50" font-size="9.8" textLength="22.8" lengthAdjust="spacingAndGlyphs" fill="#111" stroke="#111" stroke-width="0.22">0.526</text>
<rect x="17.8" y="93.40" width="3.6" height="0.6" fill="#a8a8a8"/>
<text x="26.1" y="95.80" font-size="9.8" textLength="22.8" lengthAdjust="spacingAndGlyphs" fill="#111" stroke="#111" stroke-width="0.22">0.451</text>
<rect x="17.8" y="101.90" width="3.6" height="0.6" fill="#a8a8a8"/>
<text x="26.1" y="104.30" font-size="9.8" textLength="22.8" lengthAdjust="spacingAndGlyphs" fill="#111" stroke="#111" stroke-width="0.22">0.376</text>
<rect x="17.8" y="110.30" width="3.6" height="0.6" fill="#a8a8a8"/>
<text x="26.1" y="112.70" font-size="9.8" textLength="22.8" lengthAdjust="spacingAndGlyphs" fill="#111" stroke="#111" stroke-width="0.22">0.301</text>
<rect x="17.8" y="118.50" width="3.6" height="0.6" fill="#a8a8a8"/>
<text x="26.1" y="120.90" font-size="9.8" textLength="22.8" lengthAdjust="spacingAndGlyphs" fill="#111" stroke="#111" stroke-width="0.22">0.225</text>
<rect x="17.8" y="126.80" width="3.6" height="0.6" fill="#a8a8a8"/>
<text x="26.1" y="129.20" font-size="9.8" textLength="22.8" lengthAdjust="spacingAndGlyphs" fill="#111" stroke="#111" stroke-width="0.22">0.150</text>
<rect x="17.8" y="134.90" width="3.6" height="0.6" fill="#a8a8a8"/>
<text x="26.1" y="137.30" font-size="9.8" textLength="22.8" lengthAdjust="spacingAndGlyphs" fill="#111" stroke="#111" stroke-width="0.22">0.075</text>
<rect x="17.8" y="143.20" width="3.6" height="0.6" fill="#a8a8a8"/>
<text x="26.1" y="145.60" font-size="9.8" textLength="22.8" lengthAdjust="spacingAndGlyphs" fill="#111" stroke="#111" stroke-width="0.22">0.000</text>
<text x="75.70" y="8.3" font-size="5.8" text-anchor="middle" fill="#222">-4500</text>
<text x="127.35" y="8.3" font-size="5.8" text-anchor="middle" fill="#222">-3500</text>
<text x="179.00" y="8.3" font-size="5.8" text-anchor="middle" fill="#222">-2500</text>
<text x="230.65" y="8.3" font-size="5.8" text-anchor="middle" fill="#222">-1500</text>
<text x="282.30" y="8.3" font-size="5.8" text-anchor="middle" fill="#222">-500</text>
<text x="333.95" y="8.3" font-size="5.8" text-anchor="middle" fill="#222">500</text>
<text x="385.60" y="8.3" font-size="5.8" text-anchor="middle" fill="#222">1500</text>
<text x="437.25" y="8.3" font-size="5.8" text-anchor="middle" fill="#222">2500</text>
<text x="488.90" y="8.3" font-size="5.8" text-anchor="middle" fill="#222">3500</text>
<text x="540.55" y="8.3" font-size="5.8" text-anchor="middle" fill="#222">4500</text>
<rect x="72.55" y="11.50" width="0.9" height="2.80" fill="#111"/>
<rect x="98.72" y="12.90" width="0.9" height="1.40" fill="#111"/>
<rect x="124.88" y="11.50" width="0.9" height="2.80" fill="#111"/>
<rect x="151.05" y="12.90" width="0.9" height="1.40" fill="#111"/>
<rect x="177.22" y="11.50" width="0.9" height="2.80" fill="#111"/>
<rect x="203.38" y="12.90" width="0.9" height="1.40" fill="#111"/>
<rect x="229.55" y="11.50" width="0.9" height="2.80" fill="#111"/>
<rect x="255.72" y="12.90" width="0.9" height="1.40" fill="#111"/>
<rect x="281.88" y="11.50" width="0.9" height="2.80" fill="#111"/>
<rect x="308.05" y="12.90" width="0.9" height="1.40" fill="#111"/>
<rect x="334.22" y="11.50" width="0.9" height="2.80" fill="#111"/>
<rect x="360.38" y="12.90" width="0.9" height="1.40" fill="#111"/>
<rect x="386.55" y="11.50" width="0.9" height="2.80" fill="#111"/>
<rect x="412.72" y="12.90" width="0.9" height="1.40" fill="#111"/>
<rect x="438.88" y="11.50" width="0.9" height="2.80" fill="#111"/>
<rect x="465.05" y="12.90" width="0.9" height="1.40" fill="#111"/>
<rect x="491.22" y="11.50" width="0.9" height="2.80" fill="#111"/>
<rect x="517.38" y="12.90" width="0.9" height="1.40" fill="#111"/>
<rect x="543.55" y="11.50" width="0.9" height="2.80" fill="#111"/>
<rect x="73.0" y="14.3" width="471.00" height="97.70" fill="#0055e1"/>
<svg x="73.0" y="14.3" width="471.00" height="97.70" viewBox="73.0 14.3 471.00 97.70" overflow="hidden">
<use href="#bA" x="125.20" y="112.00"/>
<use href="#bA" x="177.40" y="112.00"/>
<use href="#bA" x="229.60" y="112.00"/>
<use href="#bA2" x="281.80" y="112.00"/>
<use href="#bA2" x="334.00" y="112.00"/>
<use href="#bA2" x="386.20" y="112.00"/>
<use href="#bA3" x="438.40" y="112.00"/>
<use href="#bC" x="490.60" y="112.00"/>
</svg>
<rect x="72.5" y="14.100000000000001" width="0.7" height="98.10" fill="#333"/>
<rect x="72.5" y="111.75" width="471.80" height="0.45" fill="#1e2a5a" fill-opacity="0.6"/>
<rect x="543.80" y="14.3" width="0.6" height="97.70" fill="#1e2a78"/>
<rect x="72.5" y="14.00" width="471.80" height="0.6" fill="#1e2a5a"/>
<rect x="69.90" y="111.70" width="2.60" height="0.6" fill="#333"/>
<text x="69.7" y="111.60" font-size="4.9" text-anchor="end" fill="#333">0</text>
<rect x="71.30" y="101.93" width="1.20" height="0.6" fill="#333"/>
<rect x="69.90" y="92.16" width="2.60" height="0.6" fill="#333"/>
<text x="69.7" y="92.16" font-size="4.9" text-anchor="end" fill="#333">400</text>
<rect x="71.30" y="82.39" width="1.20" height="0.6" fill="#333"/>
<rect x="69.90" y="72.62" width="2.60" height="0.6" fill="#333"/>
<text x="69.7" y="72.72" font-size="4.9" text-anchor="end" fill="#333">800</text>
<rect x="71.30" y="62.85" width="1.20" height="0.6" fill="#333"/>
<rect x="69.90" y="53.08" width="2.60" height="0.6" fill="#333"/>
<text x="69.7" y="53.28" font-size="4.9" text-anchor="end" fill="#333">1200</text>
<rect x="71.30" y="43.31" width="1.20" height="0.6" fill="#333"/>
<rect x="69.90" y="33.54" width="2.60" height="0.6" fill="#333"/>
<text x="69.7" y="33.84" font-size="4.9" text-anchor="end" fill="#333">1600</text>
<rect x="71.30" y="23.77" width="1.20" height="0.6" fill="#333"/>
<rect x="69.90" y="14.00" width="2.60" height="0.6" fill="#333"/>
<text x="69.7" y="14.40" font-size="4.9" text-anchor="end" fill="#333">2000</text>
<rect x="75.6" y="19.70" width="82.1" height="19.6" fill="#ffffff" stroke="#1a2440" stroke-opacity="0.8" stroke-width="0.6"/>
<text x="81.5" y="34.00" font-size="11.6" fill="#111" stroke="#111" stroke-width="0.2">a. t=146 days</text>
<rect x="73.0" y="117.0" width="471.00" height="104.50" fill="#0055e1"/>
<svg x="73.0" y="117.0" width="471.00" height="104.50" viewBox="73.0 117.0 471.00 104.50" overflow="hidden">
<use href="#bB" x="125.20" y="221.50"/>
<use href="#bB" x="177.40" y="221.50"/>
<use href="#bB" x="229.60" y="221.50"/>
<use href="#bB58" x="281.80" y="221.50"/>
<use href="#bB39" x="334.00" y="221.50"/>
<use href="#bB30" x="386.20" y="221.50"/>
<use href="#bE" x="438.40" y="221.50"/>
<use href="#bA" x="490.60" y="221.50"/>
</svg>
<rect x="72.5" y="116.8" width="0.7" height="104.90" fill="#333"/>
<rect x="72.5" y="221.25" width="471.80" height="0.45" fill="#1e2a5a" fill-opacity="0.6"/>
<rect x="543.80" y="117.0" width="0.6" height="104.50" fill="#1e2a78"/>
<rect x="72.5" y="116.70" width="471.80" height="0.6" fill="#1e2a5a"/>
<rect x="69.90" y="221.20" width="2.60" height="0.6" fill="#333"/>
<text x="69.7" y="221.10" font-size="4.9" text-anchor="end" fill="#333">0</text>
<rect x="71.30" y="210.75" width="1.20" height="0.6" fill="#333"/>
<rect x="69.90" y="200.30" width="2.60" height="0.6" fill="#333"/>
<text x="69.7" y="200.30" font-size="4.9" text-anchor="end" fill="#333">400</text>
<rect x="71.30" y="189.85" width="1.20" height="0.6" fill="#333"/>
<rect x="69.90" y="179.40" width="2.60" height="0.6" fill="#333"/>
<text x="69.7" y="179.50" font-size="4.9" text-anchor="end" fill="#333">800</text>
<rect x="71.30" y="168.95" width="1.20" height="0.6" fill="#333"/>
<rect x="69.90" y="158.50" width="2.60" height="0.6" fill="#333"/>
<text x="69.7" y="158.70" font-size="4.9" text-anchor="end" fill="#333">1200</text>
<rect x="71.30" y="148.05" width="1.20" height="0.6" fill="#333"/>
<rect x="69.90" y="137.60" width="2.60" height="0.6" fill="#333"/>
<text x="69.7" y="137.90" font-size="4.9" text-anchor="end" fill="#333">1600</text>
<rect x="71.30" y="127.15" width="1.20" height="0.6" fill="#333"/>
<rect x="69.90" y="116.70" width="2.60" height="0.6" fill="#333"/>
<text x="69.7" y="117.10" font-size="4.9" text-anchor="end" fill="#333">2000</text>
<rect x="75.6" y="122.30" width="82.1" height="19.6" fill="#ffffff" stroke="#1a2440" stroke-opacity="0.8" stroke-width="0.6"/>
<text x="81.5" y="135.95" font-size="11.6" fill="#111" stroke="#111" stroke-width="0.2">b. t=268 days</text>
<rect x="73.0" y="227.0" width="471.00" height="104.20" fill="#0055e1"/>
<svg x="73.0" y="227.0" width="471.00" height="104.20" viewBox="73.0 227.0 471.00 104.20" overflow="hidden">
<use href="#bB66" x="125.20" y="331.20"/>
<use href="#bB66" x="177.40" y="331.20"/>
<use href="#bB66" x="229.60" y="331.20"/>
<use href="#bB66" x="281.80" y="331.20"/>
<use href="#bB" x="334.00" y="331.20"/>
<use href="#bB57" x="386.20" y="331.20"/>
<use href="#bB45" x="438.40" y="331.20"/>
<use href="#bD" x="490.60" y="331.20"/>
</svg>
<rect x="72.5" y="226.8" width="0.7" height="104.60" fill="#333"/>
<rect x="72.5" y="330.95" width="471.80" height="0.45" fill="#1e2a5a" fill-opacity="0.6"/>
<rect x="543.80" y="227.0" width="0.6" height="104.20" fill="#1e2a78"/>
<rect x="72.5" y="226.70" width="471.80" height="0.6" fill="#1e2a5a"/>
<rect x="69.90" y="330.90" width="2.60" height="0.6" fill="#333"/>
<text x="69.7" y="330.80" font-size="4.9" text-anchor="end" fill="#333">0</text>
<rect x="71.30" y="320.48" width="1.20" height="0.6" fill="#333"/>
<rect x="69.90" y="310.06" width="2.60" height="0.6" fill="#333"/>
<text x="69.7" y="310.06" font-size="4.9" text-anchor="end" fill="#333">400</text>
<rect x="71.30" y="299.64" width="1.20" height="0.6" fill="#333"/>
<rect x="69.90" y="289.22" width="2.60" height="0.6" fill="#333"/>
<text x="69.7" y="289.32" font-size="4.9" text-anchor="end" fill="#333">800</text>
<rect x="71.30" y="278.80" width="1.20" height="0.6" fill="#333"/>
<rect x="69.90" y="268.38" width="2.60" height="0.6" fill="#333"/>
<text x="69.7" y="268.58" font-size="4.9" text-anchor="end" fill="#333">1200</text>
<rect x="71.30" y="257.96" width="1.20" height="0.6" fill="#333"/>
<rect x="69.90" y="247.54" width="2.60" height="0.6" fill="#333"/>
<text x="69.7" y="247.84" font-size="4.9" text-anchor="end" fill="#333">1600</text>
<rect x="71.30" y="237.12" width="1.20" height="0.6" fill="#333"/>
<rect x="69.90" y="226.70" width="2.60" height="0.6" fill="#333"/>
<text x="69.7" y="227.10" font-size="4.9" text-anchor="end" fill="#333">2000</text>
<rect x="75.6" y="230.10" width="82.1" height="19.6" fill="#ffffff" stroke="#1a2440" stroke-opacity="0.8" stroke-width="0.6"/>
<text x="81.5" y="243.75" font-size="11.6" fill="#111" stroke="#111" stroke-width="0.2">c. t=730 days</text>
<g>
<text x="13.6" y="296.3" font-size="7.4" text-anchor="middle" fill="#111" stroke="#111" stroke-width="0.22">Y</text>
<text x="44.2" y="328.0" font-size="7.4" text-anchor="middle" fill="#111" stroke="#111" stroke-width="0.2">X</text>
<rect x="12.6" y="309" width="3" height="15" fill="url(#gg)"/>
<path d="M14.1,303.0 L17.9,310.8 L10.3,310.8 Z" fill="#00d000"/>
<rect x="16" y="324.1" width="13.5" height="2.6" fill="url(#rg)"/>
<path d="M36.8,325.4 L28.9,322.0 L28.9,328.9 Z" fill="url(#rg2)"/>
<circle cx="14.1" cy="325.5" r="3.1" fill="#0c0cc0"/>
<path d="M12.6,327.2 L15.4,324.0" stroke="#000020" stroke-width="0.9" fill="none"/>
</g>
</svg>
</body></html>
